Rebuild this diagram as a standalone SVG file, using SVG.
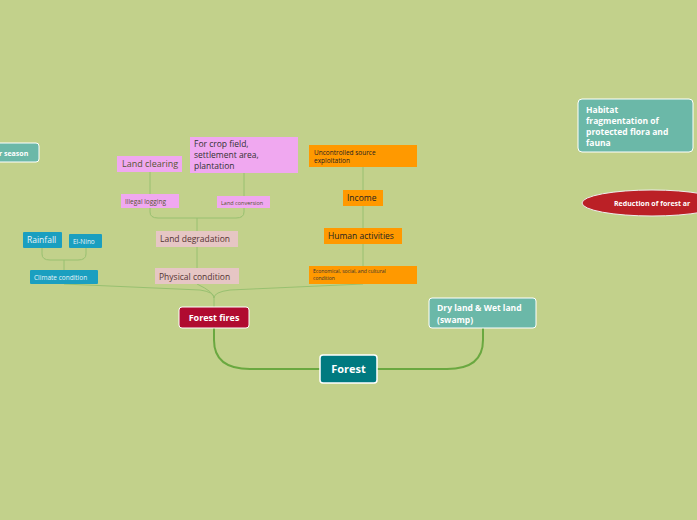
<svg xmlns="http://www.w3.org/2000/svg" width="697" height="520" viewBox="0 0 697 520">
<style>
text{font-family:"Open Sans","DejaVu Sans",sans-serif}
.c{fill:none;stroke:#98c070;stroke-width:1}
.m{fill:none;stroke:#6aa840;stroke-width:2}
.w{fill:#fff;font-weight:bold}
.pk{fill:#f0a8f0}
.pd{fill:#e6c6c4}
.bl{fill:#1a9fc0}
.or{fill:#ff9900}
</style>
<rect width="697" height="520" fill="#c2d18b"/>
<g id="connectors">
<path class="m" d="M214,328 V340 Q214,369 250,369 H320"/>
<path class="m" d="M483,328 V340 Q483,369 447,369 H377"/>
<path class="c" d="M214,307 V298 Q214,292 200,290 L64,284"/>
<path class="c" d="M214,298 Q214,292 197,284"/>
<path class="c" d="M214,298 Q214,292 230,290 L363,284"/>
<path class="c" d="M197,268 V247"/>
<path class="c" d="M197,231 V218"/>
<path class="c" d="M150,208 V212 Q150,218 158,218 H236 Q244,218 244,212 V208"/>
<path class="c" d="M150,194 V172"/>
<path class="c" d="M244,196 V173"/>
<path class="c" d="M64,270 V260"/>
<path class="c" d="M42,248 V254 Q42,260 50,260 H78 Q86,260 86,254 V248"/>
<path class="c" d="M363,266 V244 M363,228 V206 M363,190 V167"/>
</g>
<g id="forest"><rect x="320" y="355" width="57" height="28" rx="3" fill="#007a80" stroke="#fff" stroke-width="1.5"/><text x="348.5" y="373" text-anchor="middle" class="w" font-size="11">Forest</text></g>
<g id="forest-fires"><rect x="179" y="307" width="70" height="21" rx="3" fill="#b00b30" stroke="#fff"/><text x="214" y="321" text-anchor="middle" class="w" font-size="9">Forest fires</text></g>
<g id="dry-land"><rect x="429" y="298" width="107" height="30" rx="3" fill="#6bb8a8" stroke="#fff"/><text class="w" font-size="8.5"><tspan x="437" y="311">Dry land &amp; Wet land</tspan><tspan x="437" y="323">(swamp)</tspan></text></g>
<g id="habitat"><rect x="578" y="99" width="115" height="53" rx="4" fill="#6bb8a8" stroke="#fff"/><text class="w" font-size="8.5"><tspan x="586" y="113">Habitat</tspan><tspan x="586" y="124">fragmentation of</tspan><tspan x="586" y="135">protected flora and</tspan><tspan x="586" y="146">fauna</tspan></text></g>
<g id="reduction"><ellipse cx="652" cy="203" rx="70" ry="13" fill="#bb2026" stroke="#eee"/><text x="614" y="206" class="w" font-size="7">Reduction of forest ar</text></g>
<g id="season"><rect x="-6" y="143" width="45" height="19" rx="3" fill="#6bb8a8" stroke="#fff"/><text x="-1" y="156" class="w" font-size="7">r season</text></g>
<g id="land-clearing"><rect x="117" y="156" width="65" height="16" class="pk"/><text x="122" y="167" font-size="9" fill="#553">Land clearing</text></g>
<g id="crop-field"><rect x="190" y="137" width="108" height="36" class="pk"/><text font-size="8.5" fill="#333"><tspan x="194" y="147">For crop field,</tspan><tspan x="194" y="158">settlement area,</tspan><tspan x="194" y="169">plantation</tspan></text></g>
<g id="illegal-logging"><rect x="121" y="194" width="58" height="14" class="pk"/><text x="125" y="204" font-size="6.5" fill="#553">Illegal logging</text></g>
<g id="land-conversion"><rect x="217" y="196" width="53" height="12" class="pk"/><text x="221" y="205" font-size="5.5" fill="#553">Land conversion</text></g>
<g id="land-degradation"><rect x="156" y="231" width="82" height="16" class="pd"/><text x="160" y="242" font-size="8.5" fill="#533">Land degradation</text></g>
<g id="physical"><rect x="155" y="268" width="84" height="16" class="pd"/><text x="159" y="280" font-size="8.5" fill="#533">Physical condition</text></g>
<g id="rainfall"><rect x="23" y="232" width="39" height="16" rx="1" class="bl"/><text x="27" y="243" font-size="8.5" fill="#e8f4f8">Rainfall</text></g>
<g id="el-nino"><rect x="69" y="234" width="33" height="14" rx="1" class="bl"/><text x="73" y="244" font-size="6.5" fill="#e8f4f8">El-Nino</text></g>
<g id="climate"><rect x="30" y="270" width="68" height="14" rx="1" class="bl"/><text x="34" y="280" font-size="6.5" fill="#e8f4f8">Climate condition</text></g>
<g id="uncontrolled"><rect x="309" y="145" width="108" height="22" class="or"/><text font-size="6.5" fill="#222"><tspan x="314" y="155">Uncontrolled source</tspan><tspan x="314" y="163">exploitation</tspan></text></g>
<g id="income"><rect x="343" y="190" width="40" height="16" class="or"/><text x="347" y="201" font-size="8.5" fill="#222">Income</text></g>
<g id="human"><rect x="324" y="228" width="78" height="16" class="or"/><text x="328" y="239" font-size="8.5" fill="#222">Human activities</text></g>
<g id="economical"><rect x="309" y="266" width="108" height="18" class="or"/><text font-size="5" fill="#333"><tspan x="313" y="273">Economical, social, and cultural</tspan><tspan x="313" y="280">condition</tspan></text></g>
</svg>
